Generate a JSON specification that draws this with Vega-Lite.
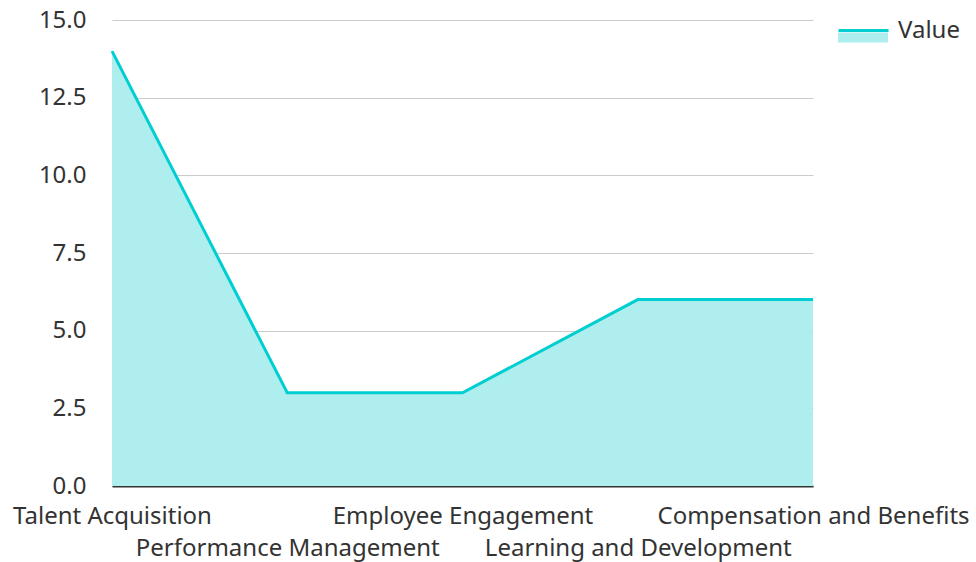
{
  "$schema": "https://vega.github.io/schema/vega-lite/v6.json",
  "width": 701,
  "height": 466,
  "autosize": {"type": "none"},
  "padding": {"left": 112, "top": 20, "right": 163, "bottom": 76},
  "background": "white",
  "config": {
    "font": "Noto Sans",
    "view": {"stroke": null}
  },
  "data": {
    "values": [
      {"category": "Talent Acquisition", "value": 14, "series": "Value"},
      {"category": "Performance Management", "value": 3, "series": "Value"},
      {"category": "Employee Engagement", "value": 3, "series": "Value"},
      {"category": "Learning and Development", "value": 6, "series": "Value"},
      {"category": "Compensation and Benefits", "value": 6, "series": "Value"}
    ]
  },
  "encoding": {
    "x": {
      "field": "category",
      "type": "ordinal",
      "sort": null,
      "scale": {"type": "point", "padding": 0},
      "axis": {
        "title": null,
        "labelAngle": 0,
        "labelFontSize": 24,
        "labelColor": "#333333",
        "labelLimit": 0,
        "labelOverlap": false,
        "labelPadding": 18,
        "labelLineHeight": 32,
        "ticks": false,
        "grid": false,
        "domainColor": "#333333",
        "domainWidth": 2,
        "labelExpr": "indexof(['Performance Management','Learning and Development'], datum.label) >= 0 ? ['', datum.label] : datum.label"
      }
    },
    "y": {
      "field": "value",
      "type": "quantitative",
      "scale": {"domain": [0, 15]},
      "axis": {
        "title": null,
        "values": [0, 2.5, 5, 7.5, 10, 12.5, 15],
        "format": ".1f",
        "labelFontSize": 24,
        "labelColor": "#333333",
        "labelPadding": 26,
        "ticks": false,
        "domain": false,
        "gridColor": "#cccccc",
        "gridWidth": 1
      }
    }
  },
  "layer": [
    {
      "mark": {"type": "area", "opacity": 1},
      "encoding": {
        "fill": {
          "field": "series",
          "type": "nominal",
          "scale": {"range": ["#AFEEEE"]},
          "legend": {
            "title": null,
            "orient": "none",
            "legendX": 725,
            "legendY": -16,
            "symbolType": "M-1,0.1H1V0.5H-1Z",
            "symbolSize": 2500,
            "symbolOpacity": 1,
            "labelOpacity": 0,
            "labelFontSize": 24,
            "labelOffset": 8
          }
        }
      }
    },
    {
      "mark": {"type": "line", "strokeWidth": 3},
      "encoding": {
        "stroke": {
          "field": "series",
          "type": "nominal",
          "scale": {"range": ["#00CED1"]},
          "legend": {
            "title": null,
            "orient": "none",
            "legendX": 725,
            "legendY": -16,
            "symbolType": "stroke",
            "symbolSize": 2500,
            "symbolStrokeWidth": 3,
            "labelFontSize": 24,
            "labelColor": "#333333",
            "labelOffset": 8
          }
        }
      }
    }
  ]
}
